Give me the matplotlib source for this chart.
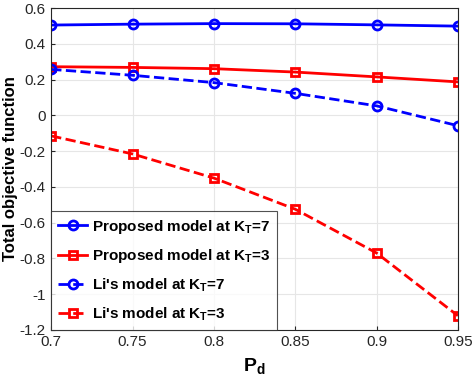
import numpy as np
import matplotlib
matplotlib.use('Agg')
import matplotlib.pyplot as plt

plt.rcParams['font.family'] = 'Liberation Sans'
plt.rcParams['mathtext.fontset'] = 'custom'
plt.rcParams['mathtext.bf'] = 'Liberation Sans:bold'
plt.rcParams['mathtext.rm'] = 'Liberation Sans'
plt.rcParams['mathtext.default'] = 'bf'

pd_vals = [0.7, 0.75, 0.8, 0.85, 0.9, 0.95]
prop_k7 = [0.505, 0.510, 0.513, 0.512, 0.506, 0.499]
prop_k3 = [0.272, 0.268, 0.261, 0.242, 0.215, 0.187]
li_k7 = [0.257, 0.224, 0.183, 0.123, 0.053, -0.058]
li_k3 = [-0.115, -0.216, -0.351, -0.525, -0.770, -1.121]

fig = plt.figure(figsize=(4.74, 3.84), dpi=100)
ax = fig.add_axes([0.108, 0.141, 0.858, 0.838])

ax.plot(pd_vals, prop_k7, '-o', color='#0000ff', lw=2, ms=6.5, mfc='none', mew=2,
        label='Proposed model at K$_T$=7')
ax.plot(pd_vals, prop_k3, '-s', color='#ff0000', lw=2, ms=5.5, mfc='none', mew=2,
        label='Proposed model at K$_T$=3')
ax.plot(pd_vals, li_k7, '--o', color='#0000ff', lw=2, ms=6.5, mfc='none', mew=2,
        label="Li's model at K$_T$=7")
ax.plot(pd_vals, li_k3, '--s', color='#ff0000', lw=2, ms=5.5, mfc='none', mew=2,
        label="Li's model at K$_T$=3")

ax.set_xlim(0.7, 0.95)
ax.set_ylim(-1.2, 0.6)
ax.set_xticks(pd_vals)
ax.set_xticklabels(['0.7', '0.75', '0.8', '0.85', '0.9', '0.95'])
ax.set_yticks(np.arange(-1.2, 0.61, 0.2))
ax.set_yticklabels(['-1.2', '-1', '-0.8', '-0.6', '-0.4', '-0.2', '0', '0.2', '0.4', '0.6'])
ax.tick_params(labelsize=11, direction='in', length=3, color='#262626', labelcolor='#262626',
               pad=4)
ax.grid(True, color='#e6e6e6', lw=0.8)
for s in ax.spines.values():
    s.set_color('#262626')
    s.set_linewidth(0.8)

ax.set_xlabel('P$_d$', fontsize=14, fontweight='bold', labelpad=5)
ax.set_ylabel('Total objective function', fontsize=12, fontweight='bold', labelpad=1)

leg = ax.legend(loc='lower left', prop={'weight': 'bold', 'size': 11},
                fancybox=False, edgecolor='#262626', handlelength=1.9, borderaxespad=0,
                labelspacing=0.75, handletextpad=0.3, borderpad=0.45)
leg.get_frame().set_linewidth(0.8)

fig.savefig('out.png', dpi=100)
